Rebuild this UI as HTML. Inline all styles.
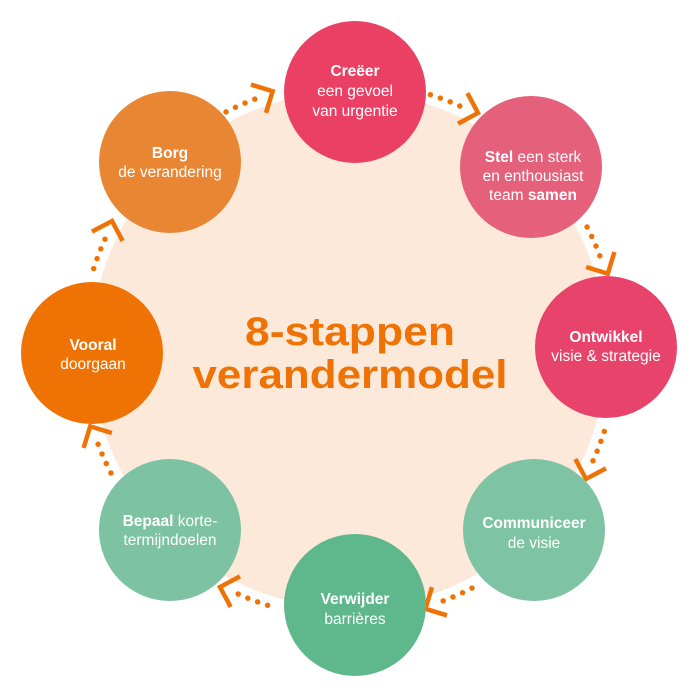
<!DOCTYPE html>
<html><head><meta charset="utf-8"><style>
html,body{margin:0;padding:0;background:#fff;width:700px;height:700px;overflow:hidden}
svg{display:block}
text{font-family:"Liberation Sans",sans-serif;fill:#fff;text-anchor:middle;font-size:15.5px}
.b{font-weight:bold}
</style></head><body>
<svg width="700" height="700" viewBox="0 0 700 700">
<circle cx="349" cy="350" r="258" fill="#fde9da"/>
<defs>
<g id="arr" fill="none" stroke="#ef7205" stroke-linecap="round">
<path d="M 430.4 94.7 A 268 268 0 0 1 464.3 108.1" stroke-width="5.5" stroke-dasharray="0 10.5"/>
<polyline points="-16,-16 0,0 -16,16" stroke-width="4.5" stroke-linecap="butt" transform="translate(478,113) rotate(17)"/>
</g>
</defs>
<use href="#arr" transform="rotate(0 349 350)"/>
<use href="#arr" transform="rotate(45 349 350)"/>
<use href="#arr" transform="rotate(90 349 350)"/>
<use href="#arr" transform="rotate(135 349 350)"/>
<use href="#arr" transform="rotate(180 349 350)"/>
<use href="#arr" transform="rotate(225 349 350)"/>
<use href="#arr" transform="rotate(270 349 350)"/>
<use href="#arr" transform="rotate(315 349 350)"/>

<circle cx="355" cy="92" r="71" fill="#e94064"/>
<circle cx="531" cy="167" r="71" fill="#e5607a"/>
<circle cx="606" cy="347" r="71" fill="#e8436a"/>
<circle cx="534" cy="530" r="71" fill="#7ec4a4"/>
<circle cx="355" cy="605" r="71" fill="#5fb88c"/>
<circle cx="170" cy="530" r="71" fill="#7dc2a2"/>
<circle cx="92" cy="353" r="71" fill="#ef7205"/>
<circle cx="170" cy="162" r="71" fill="#e98633"/>

<text x="355" y="76" class="b">Creëer</text>
<text x="355" y="96">een gevoel</text>
<text x="355" y="116">van urgentie</text>

<text x="533" y="162"><tspan class="b">Stel</tspan> een sterk</text>
<text x="533" y="181">en enthousiast</text>
<text x="533" y="200">team <tspan class="b">samen</tspan></text>

<text x="606" y="342" class="b">Ontwikkel</text>
<text x="606" y="361">visie &amp; strategie</text>

<text x="534" y="528" class="b">Communiceer</text>
<text x="534" y="548">de visie</text>

<text x="355" y="604" class="b">Verwijder</text>
<text x="355" y="624">barrières</text>

<text x="170" y="526"><tspan class="b">Bepaal</tspan> korte-</text>
<text x="170" y="545">termijndoelen</text>

<text x="93" y="350" class="b">Vooral</text>
<text x="93" y="369">doorgaan</text>

<text x="170" y="158" class="b">Borg</text>
<text x="170" y="177">de verandering</text>

<text x="350" y="345" style="fill:#ef7205;font-size:40px;font-weight:bold" textLength="210" lengthAdjust="spacingAndGlyphs">8-stappen</text>
<text x="350" y="388" style="fill:#ef7205;font-size:40px;font-weight:bold" textLength="315" lengthAdjust="spacingAndGlyphs">verandermodel</text>
</svg>
</body></html>
